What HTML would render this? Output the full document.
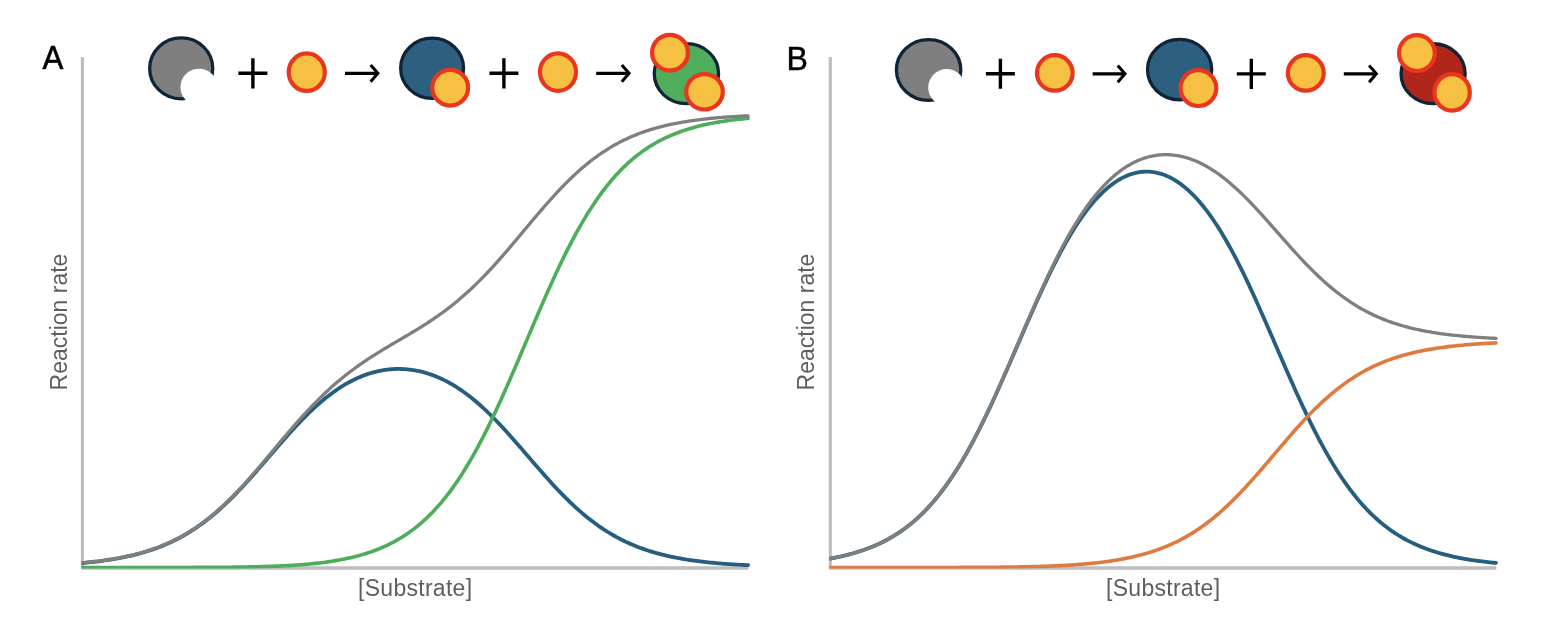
<!DOCTYPE html>
<html><head><meta charset="utf-8"><title>Reaction rate vs substrate</title>
<style>
html,body{margin:0;padding:0;background:#fff;}
body{width:1542px;height:642px;overflow:hidden;font-family:"Liberation Sans",sans-serif;}
svg{display:block;will-change:transform;}
text{font-family:"Liberation Sans",sans-serif;}
</style></head><body>
<svg width="1542" height="642" viewBox="0 0 1542 642">
<rect width="1542" height="642" fill="#fff"/>
<defs>
<clipPath id="cA"><rect x="81.5" y="100" width="700" height="468.4"/></clipPath>
<clipPath id="cB"><rect x="829.4" y="100" width="700" height="468.4"/></clipPath>
</defs>
<path d="M82.4,57.1 V568.95" fill="none" stroke="#bdbdbd" stroke-width="3.1"/><path d="M81.3,567.95 H748.4" fill="none" stroke="#bdbdbd" stroke-width="3.5"/>
<path d="M830.3,57.1 V568.95" fill="none" stroke="#bdbdbd" stroke-width="3.1"/><path d="M829.1999999999999,567.95 H1496.3" fill="none" stroke="#bdbdbd" stroke-width="3.5"/>
<path d="M82.50,563.00 L84.49,562.81 L86.49,562.62 L88.48,562.42 L90.47,562.21 L92.46,561.99 L94.46,561.76 L96.45,561.53 L98.44,561.29 L100.44,561.03 L102.43,560.77 L104.42,560.49 L106.41,560.21 L108.41,559.91 L110.40,559.60 L112.39,559.28 L114.39,558.95 L116.38,558.60 L118.37,558.25 L120.36,557.87 L122.36,557.49 L124.35,557.08 L126.34,556.67 L128.33,556.23 L130.33,555.78 L132.32,555.32 L134.31,554.83 L136.31,554.33 L138.30,553.81 L140.29,553.27 L142.28,552.71 L144.28,552.13 L146.27,551.53 L148.26,550.91 L150.26,550.26 L152.25,549.59 L154.24,548.90 L156.23,548.19 L158.23,547.45 L160.22,546.68 L162.21,545.89 L164.21,545.07 L166.20,544.22 L168.19,543.35 L170.18,542.44 L172.18,541.51 L174.17,540.55 L176.16,539.55 L178.16,538.53 L180.15,537.47 L182.14,536.38 L184.13,535.26 L186.13,534.10 L188.12,532.91 L190.11,531.68 L192.10,530.42 L194.10,529.13 L196.09,527.80 L198.08,526.43 L200.08,525.03 L202.07,523.59 L204.06,522.11 L206.05,520.59 L208.05,519.04 L210.04,517.46 L212.03,515.83 L214.03,514.17 L216.02,512.47 L218.01,510.74 L220.00,508.97 L222.00,507.16 L223.99,505.32 L225.98,503.45 L227.98,501.54 L229.97,499.60 L231.96,497.63 L233.95,495.62 L235.95,493.59 L237.94,491.52 L239.93,489.43 L241.93,487.32 L243.92,485.17 L245.91,483.01 L247.90,480.82 L249.90,478.61 L251.89,476.38 L253.88,474.14 L255.87,471.88 L257.87,469.60 L259.86,467.32 L261.85,465.02 L263.85,462.72 L265.84,460.41 L267.83,458.10 L269.82,455.78 L271.82,453.47 L273.81,451.16 L275.80,448.85 L277.80,446.55 L279.79,444.26 L281.78,441.98 L283.77,439.71 L285.77,437.45 L287.76,435.22 L289.75,433.00 L291.75,430.80 L293.74,428.63 L295.73,426.48 L297.72,424.35 L299.72,422.25 L301.71,420.18 L303.70,418.15 L305.70,416.14 L307.69,414.17 L309.68,412.23 L311.67,410.33 L313.67,408.46 L315.66,406.63 L317.65,404.84 L319.64,403.09 L321.64,401.38 L323.63,399.72 L325.62,398.09 L327.62,396.51 L329.61,394.97 L331.60,393.47 L333.59,392.02 L335.59,390.61 L337.58,389.24 L339.57,387.92 L341.57,386.65 L343.56,385.42 L345.55,384.23 L347.54,383.09 L349.54,382.00 L351.53,380.95 L353.52,379.95 L355.52,378.99 L357.51,378.07 L359.50,377.20 L361.49,376.38 L363.49,375.60 L365.48,374.86 L367.47,374.17 L369.47,373.52 L371.46,372.91 L373.45,372.35 L375.44,371.84 L377.44,371.36 L379.43,370.93 L381.42,370.54 L383.41,370.19 L385.41,369.89 L387.40,369.63 L389.39,369.41 L391.39,369.24 L393.38,369.10 L395.37,369.01 L397.36,368.96 L399.36,368.95 L401.35,368.99 L403.34,369.07 L405.34,369.19 L407.33,369.35 L409.32,369.55 L411.31,369.80 L413.31,370.09 L415.30,370.42 L417.29,370.79 L419.29,371.21 L421.28,371.67 L423.27,372.17 L425.26,372.72 L427.26,373.31 L429.25,373.94 L431.24,374.62 L433.24,375.34 L435.23,376.11 L437.22,376.92 L439.21,377.77 L441.21,378.67 L443.20,379.62 L445.19,380.60 L447.19,381.64 L449.18,382.72 L451.17,383.84 L453.16,385.01 L455.16,386.23 L457.15,387.49 L459.14,388.79 L461.13,390.14 L463.13,391.53 L465.12,392.97 L467.11,394.45 L469.11,395.98 L471.10,397.55 L473.09,399.16 L475.08,400.81 L477.08,402.51 L479.07,404.24 L481.06,406.02 L483.06,407.83 L485.05,409.69 L487.04,411.58 L489.03,413.50 L491.03,415.47 L493.02,417.46 L495.01,419.49 L497.01,421.55 L499.00,423.63 L500.99,425.75 L502.98,427.89 L504.98,430.06 L506.97,432.25 L508.96,434.46 L510.96,436.69 L512.95,438.94 L514.94,441.20 L516.93,443.48 L518.93,445.77 L520.92,448.06 L522.91,450.37 L524.90,452.68 L526.90,454.99 L528.89,457.31 L530.88,459.62 L532.88,461.93 L534.87,464.24 L536.86,466.54 L538.85,468.83 L540.85,471.10 L542.84,473.37 L544.83,475.62 L546.83,477.85 L548.82,480.07 L550.81,482.27 L552.80,484.44 L554.80,486.59 L556.79,488.72 L558.78,490.82 L560.78,492.89 L562.77,494.93 L564.76,496.95 L566.75,498.93 L568.75,500.88 L570.74,502.80 L572.73,504.69 L574.73,506.54 L576.72,508.36 L578.71,510.14 L580.70,511.89 L582.70,513.60 L584.69,515.27 L586.68,516.91 L588.67,518.51 L590.67,520.07 L592.66,521.60 L594.65,523.09 L596.65,524.54 L598.64,525.96 L600.63,527.34 L602.62,528.68 L604.62,529.99 L606.61,531.26 L608.60,532.50 L610.60,533.70 L612.59,534.87 L614.58,536.00 L616.57,537.10 L618.57,538.17 L620.56,539.21 L622.55,540.21 L624.55,541.19 L626.54,542.13 L628.53,543.04 L630.52,543.93 L632.52,544.78 L634.51,545.61 L636.50,546.41 L638.50,547.19 L640.49,547.94 L642.48,548.66 L644.47,549.36 L646.47,550.04 L648.46,550.69 L650.45,551.32 L652.44,551.93 L654.44,552.52 L656.43,553.08 L658.42,553.63 L660.42,554.16 L662.41,554.66 L664.40,555.15 L666.39,555.63 L668.39,556.08 L670.38,556.52 L672.37,556.94 L674.37,557.35 L676.36,557.74 L678.35,558.12 L680.34,558.48 L682.34,558.83 L684.33,559.17 L686.32,559.50 L688.32,559.81 L690.31,560.11 L692.30,560.40 L694.29,560.68 L696.29,560.94 L698.28,561.20 L700.27,561.45 L702.27,561.69 L704.26,561.91 L706.25,562.14 L708.24,562.35 L710.24,562.55 L712.23,562.75 L714.22,562.93 L716.21,563.11 L718.21,563.29 L720.20,563.46 L722.19,563.62 L724.19,563.77 L726.18,563.92 L728.17,564.06 L730.16,564.20 L732.16,564.33 L734.15,564.46 L736.14,564.58 L738.14,564.69 L740.13,564.81 L742.12,564.91 L744.11,565.02 L746.11,565.12 L748.10,565.21" fill="none" stroke="#255e7e" stroke-width="3.8" stroke-linecap="round" stroke-linejoin="round" clip-path="url(#cA)"/>
<path d="M82.50,567.50 L84.49,567.50 L86.49,567.50 L88.48,567.50 L90.47,567.50 L92.46,567.50 L94.46,567.50 L96.45,567.50 L98.44,567.50 L100.44,567.50 L102.43,567.50 L104.42,567.50 L106.41,567.50 L108.41,567.50 L110.40,567.50 L112.39,567.50 L114.39,567.50 L116.38,567.50 L118.37,567.50 L120.36,567.50 L122.36,567.50 L124.35,567.49 L126.34,567.49 L128.33,567.49 L130.33,567.49 L132.32,567.49 L134.31,567.49 L136.31,567.49 L138.30,567.49 L140.29,567.49 L142.28,567.49 L144.28,567.49 L146.27,567.49 L148.26,567.49 L150.26,567.49 L152.25,567.48 L154.24,567.48 L156.23,567.48 L158.23,567.48 L160.22,567.48 L162.21,567.48 L164.21,567.47 L166.20,567.47 L168.19,567.47 L170.18,567.47 L172.18,567.47 L174.17,567.46 L176.16,567.46 L178.16,567.46 L180.15,567.45 L182.14,567.45 L184.13,567.45 L186.13,567.44 L188.12,567.44 L190.11,567.43 L192.10,567.43 L194.10,567.42 L196.09,567.41 L198.08,567.41 L200.08,567.40 L202.07,567.39 L204.06,567.38 L206.05,567.38 L208.05,567.37 L210.04,567.36 L212.03,567.34 L214.03,567.33 L216.02,567.32 L218.01,567.31 L220.00,567.29 L222.00,567.28 L223.99,567.26 L225.98,567.24 L227.98,567.22 L229.97,567.20 L231.96,567.18 L233.95,567.16 L235.95,567.14 L237.94,567.11 L239.93,567.08 L241.93,567.05 L243.92,567.02 L245.91,566.99 L247.90,566.95 L249.90,566.92 L251.89,566.88 L253.88,566.83 L255.87,566.79 L257.87,566.74 L259.86,566.69 L261.85,566.64 L263.85,566.58 L265.84,566.52 L267.83,566.46 L269.82,566.39 L271.82,566.32 L273.81,566.24 L275.80,566.17 L277.80,566.08 L279.79,566.00 L281.78,565.90 L283.77,565.81 L285.77,565.70 L287.76,565.60 L289.75,565.48 L291.75,565.36 L293.74,565.24 L295.73,565.11 L297.72,564.97 L299.72,564.82 L301.71,564.67 L303.70,564.51 L305.70,564.34 L307.69,564.17 L309.68,563.98 L311.67,563.79 L313.67,563.59 L315.66,563.38 L317.65,563.15 L319.64,562.92 L321.64,562.68 L323.63,562.43 L325.62,562.16 L327.62,561.89 L329.61,561.60 L331.60,561.30 L333.59,560.98 L335.59,560.65 L337.58,560.31 L339.57,559.95 L341.57,559.58 L343.56,559.19 L345.55,558.78 L347.54,558.36 L349.54,557.92 L351.53,557.46 L353.52,556.98 L355.52,556.48 L357.51,555.96 L359.50,555.42 L361.49,554.86 L363.49,554.27 L365.48,553.66 L367.47,553.03 L369.47,552.37 L371.46,551.68 L373.45,550.97 L375.44,550.23 L377.44,549.46 L379.43,548.66 L381.42,547.82 L383.41,546.96 L385.41,546.06 L387.40,545.13 L389.39,544.17 L391.39,543.16 L393.38,542.12 L395.37,541.04 L397.36,539.92 L399.36,538.76 L401.35,537.56 L403.34,536.31 L405.34,535.02 L407.33,533.68 L409.32,532.29 L411.31,530.85 L413.31,529.37 L415.30,527.83 L417.29,526.24 L419.29,524.59 L421.28,522.89 L423.27,521.14 L425.26,519.32 L427.26,517.45 L429.25,515.51 L431.24,513.51 L433.24,511.45 L435.23,509.33 L437.22,507.14 L439.21,504.88 L441.21,502.55 L443.20,500.16 L445.19,497.70 L447.19,495.16 L449.18,492.56 L451.17,489.88 L453.16,487.13 L455.16,484.30 L457.15,481.40 L459.14,478.43 L461.13,475.39 L463.13,472.26 L465.12,469.07 L467.11,465.80 L469.11,462.45 L471.10,459.04 L473.09,455.54 L475.08,451.98 L477.08,448.34 L479.07,444.64 L481.06,440.86 L483.06,437.02 L485.05,433.10 L487.04,429.13 L489.03,425.09 L491.03,420.99 L493.02,416.83 L495.01,412.61 L497.01,408.34 L499.00,404.01 L500.99,399.64 L502.98,395.22 L504.98,390.76 L506.97,386.26 L508.96,381.72 L510.96,377.15 L512.95,372.55 L514.94,367.93 L516.93,363.28 L518.93,358.61 L520.92,353.93 L522.91,349.24 L524.90,344.55 L526.90,339.85 L528.89,335.15 L530.88,330.46 L532.88,325.78 L534.87,321.11 L536.86,316.45 L538.85,311.82 L540.85,307.22 L542.84,302.64 L544.83,298.10 L546.83,293.59 L548.82,289.12 L550.81,284.69 L552.80,280.31 L554.80,275.98 L556.79,271.70 L558.78,267.47 L560.78,263.30 L562.77,259.18 L564.76,255.13 L566.75,251.14 L568.75,247.22 L570.74,243.36 L572.73,239.57 L574.73,235.85 L576.72,232.20 L578.71,228.62 L580.70,225.11 L582.70,221.68 L584.69,218.32 L586.68,215.03 L588.67,211.82 L590.67,208.69 L592.66,205.62 L594.65,202.64 L596.65,199.72 L598.64,196.88 L600.63,194.12 L602.62,191.42 L604.62,188.80 L606.61,186.25 L608.60,183.77 L610.60,181.36 L612.59,179.02 L614.58,176.75 L616.57,174.54 L618.57,172.40 L620.56,170.33 L622.55,168.31 L624.55,166.36 L626.54,164.47 L628.53,162.64 L630.52,160.87 L632.52,159.16 L634.51,157.50 L636.50,155.89 L638.50,154.34 L640.49,152.84 L642.48,151.39 L644.47,149.99 L646.47,148.64 L648.46,147.33 L650.45,146.07 L652.44,144.85 L654.44,143.68 L656.43,142.54 L658.42,141.45 L660.42,140.40 L662.41,139.38 L664.40,138.40 L666.39,137.45 L668.39,136.54 L670.38,135.66 L672.37,134.82 L674.37,134.00 L676.36,133.22 L678.35,132.46 L680.34,131.74 L682.34,131.04 L684.33,130.36 L686.32,129.71 L688.32,129.09 L690.31,128.49 L692.30,127.91 L694.29,127.35 L696.29,126.82 L698.28,126.30 L700.27,125.81 L702.27,125.33 L704.26,124.87 L706.25,124.43 L708.24,124.01 L710.24,123.60 L712.23,123.21 L714.22,122.83 L716.21,122.47 L718.21,122.12 L720.20,121.79 L722.19,121.47 L724.19,121.16 L726.18,120.86 L728.17,120.58 L730.16,120.31 L732.16,120.04 L734.15,119.79 L736.14,119.55 L738.14,119.31 L740.13,119.09 L742.12,118.87 L744.11,118.67 L746.11,118.47 L748.10,118.28" fill="none" stroke="#4cad5a" stroke-width="3.6" stroke-linecap="round" stroke-linejoin="round" clip-path="url(#cA)"/>
<path d="M82.50,562.80 L84.49,562.61 L86.49,562.42 L88.48,562.22 L90.47,562.01 L92.46,561.79 L94.46,561.56 L96.45,561.33 L98.44,561.08 L100.44,560.83 L102.43,560.57 L104.42,560.29 L106.41,560.01 L108.41,559.71 L110.40,559.40 L112.39,559.08 L114.39,558.75 L116.38,558.40 L118.37,558.04 L120.36,557.67 L122.36,557.28 L124.35,556.88 L126.34,556.46 L128.33,556.03 L130.33,555.58 L132.32,555.11 L134.31,554.63 L136.31,554.12 L138.30,553.60 L140.29,553.06 L142.28,552.50 L144.28,551.92 L146.27,551.32 L148.26,550.69 L150.26,550.05 L152.25,549.38 L154.24,548.69 L156.23,547.97 L158.23,547.23 L160.22,546.46 L162.21,545.66 L164.21,544.84 L166.20,543.99 L168.19,543.12 L170.18,542.21 L172.18,541.28 L174.17,540.31 L176.16,539.31 L178.16,538.28 L180.15,537.22 L182.14,536.13 L184.13,535.00 L186.13,533.84 L188.12,532.65 L190.11,531.42 L192.10,530.15 L194.10,528.85 L196.09,527.51 L198.08,526.14 L200.08,524.73 L202.07,523.28 L204.06,521.79 L206.05,520.27 L208.05,518.71 L210.04,517.11 L212.03,515.48 L214.03,513.80 L216.02,512.09 L218.01,510.35 L220.00,508.56 L222.00,506.74 L223.99,504.88 L225.98,502.99 L227.98,501.06 L229.97,499.10 L231.96,497.11 L233.95,495.08 L235.95,493.02 L237.94,490.93 L239.93,488.82 L241.93,486.67 L243.92,484.49 L245.91,482.30 L247.90,480.07 L249.90,477.82 L251.89,475.56 L253.88,473.27 L255.87,470.96 L257.87,468.64 L259.86,466.31 L261.85,463.96 L263.85,461.60 L265.84,459.23 L267.83,456.85 L269.82,454.47 L271.82,452.09 L273.81,449.70 L275.80,447.31 L277.80,444.93 L279.79,442.55 L281.78,440.18 L283.77,437.81 L285.77,435.46 L287.76,433.11 L289.75,430.78 L291.75,428.46 L293.74,426.16 L295.73,423.88 L297.72,421.62 L299.72,419.38 L301.71,417.15 L303.70,414.96 L305.70,412.78 L307.69,410.63 L309.68,408.51 L311.67,406.41 L313.67,404.35 L315.66,402.31 L317.65,400.30 L319.64,398.32 L321.64,396.36 L323.63,394.44 L325.62,392.55 L327.62,390.69 L329.61,388.86 L331.60,387.07 L333.59,385.30 L335.59,383.56 L337.58,381.85 L339.57,380.17 L341.57,378.53 L343.56,376.91 L345.55,375.32 L347.54,373.75 L349.54,372.22 L351.53,370.71 L353.52,369.22 L355.52,367.77 L357.51,366.33 L359.50,364.92 L361.49,363.53 L363.49,362.17 L365.48,360.82 L367.47,359.49 L369.47,358.19 L371.46,356.90 L373.45,355.62 L375.44,354.36 L377.44,353.12 L379.43,351.88 L381.42,350.66 L383.41,349.46 L385.41,348.25 L387.40,347.06 L389.39,345.88 L391.39,344.70 L393.38,343.52 L395.37,342.35 L397.36,341.18 L399.36,340.01 L401.35,338.85 L403.34,337.67 L405.34,336.50 L407.33,335.32 L409.32,334.14 L411.31,332.95 L413.31,331.75 L415.30,330.55 L417.29,329.33 L419.29,328.10 L421.28,326.86 L423.27,325.61 L425.26,324.34 L427.26,323.05 L429.25,321.75 L431.24,320.43 L433.24,319.09 L435.23,317.73 L437.22,316.35 L439.21,314.95 L441.21,313.52 L443.20,312.07 L445.19,310.60 L447.19,309.10 L449.18,307.57 L451.17,306.02 L453.16,304.44 L455.16,302.83 L457.15,301.19 L459.14,299.52 L461.13,297.82 L463.13,296.10 L465.12,294.34 L467.11,292.55 L469.11,290.73 L471.10,288.88 L473.09,287.00 L475.08,285.09 L477.08,283.15 L479.07,281.18 L481.06,279.18 L483.06,277.15 L485.05,275.09 L487.04,273.01 L489.03,270.89 L491.03,268.75 L493.02,266.59 L495.01,264.40 L497.01,262.18 L499.00,259.95 L500.99,257.69 L502.98,255.41 L504.98,253.12 L506.97,250.81 L508.96,248.48 L510.96,246.14 L512.95,243.79 L514.94,241.43 L516.93,239.06 L518.93,236.68 L520.92,234.30 L522.91,231.91 L524.90,229.53 L526.90,227.14 L528.89,224.76 L530.88,222.38 L532.88,220.01 L534.87,217.64 L536.86,215.29 L538.85,212.95 L540.85,210.62 L542.84,208.31 L544.83,206.02 L546.83,203.74 L548.82,201.49 L550.81,199.26 L552.80,197.05 L554.80,194.87 L556.79,192.71 L558.78,190.58 L560.78,188.48 L562.77,186.42 L564.76,184.38 L566.75,182.37 L568.75,180.40 L570.74,178.46 L572.73,176.56 L574.73,174.69 L576.72,172.85 L578.71,171.06 L580.70,169.30 L582.70,167.57 L584.69,165.89 L586.68,164.24 L588.67,162.63 L590.67,161.06 L592.66,159.52 L594.65,158.02 L596.65,156.56 L598.64,155.14 L600.63,153.75 L602.62,152.40 L604.62,151.09 L606.61,149.81 L608.60,148.57 L610.60,147.36 L612.59,146.19 L614.58,145.05 L616.57,143.95 L618.57,142.87 L620.56,141.83 L622.55,140.83 L624.55,139.85 L626.54,138.90 L628.53,137.99 L630.52,137.10 L632.52,136.24 L634.51,135.41 L636.50,134.61 L638.50,133.83 L640.49,133.08 L642.48,132.36 L644.47,131.65 L646.47,130.98 L648.46,130.32 L650.45,129.69 L652.44,129.08 L654.44,128.49 L656.43,127.93 L658.42,127.38 L660.42,126.85 L662.41,126.34 L664.40,125.85 L666.39,125.38 L668.39,124.92 L670.38,124.48 L672.37,124.06 L674.37,123.65 L676.36,123.26 L678.35,122.88 L680.34,122.52 L682.34,122.17 L684.33,121.83 L686.32,121.51 L688.32,121.20 L690.31,120.89 L692.30,120.61 L694.29,120.33 L696.29,120.06 L698.28,119.80 L700.27,119.55 L702.27,119.32 L704.26,119.09 L706.25,118.87 L708.24,118.65 L710.24,118.45 L712.23,118.26 L714.22,118.07 L716.21,117.89 L718.21,117.71 L720.20,117.55 L722.19,117.38 L724.19,117.23 L726.18,117.08 L728.17,116.94 L730.16,116.80 L732.16,116.67 L734.15,116.54 L736.14,116.42 L738.14,116.31 L740.13,116.19 L742.12,116.09 L744.11,115.98 L746.11,115.88 L748.10,115.79" fill="none" stroke="#7f7f7f" stroke-width="3.3" stroke-linecap="round" stroke-linejoin="round" clip-path="url(#cA)"/>
<path d="M830.40,558.52 L832.39,558.15 L834.39,557.77 L836.38,557.37 L838.37,556.95 L840.36,556.52 L842.36,556.07 L844.35,555.60 L846.34,555.11 L848.34,554.60 L850.33,554.08 L852.32,553.53 L854.31,552.96 L856.31,552.37 L858.30,551.75 L860.29,551.12 L862.29,550.45 L864.28,549.76 L866.27,549.05 L868.26,548.30 L870.26,547.53 L872.25,546.73 L874.24,545.90 L876.23,545.04 L878.23,544.14 L880.22,543.21 L882.21,542.24 L884.21,541.24 L886.20,540.21 L888.19,539.13 L890.18,538.01 L892.18,536.86 L894.17,535.66 L896.16,534.42 L898.16,533.13 L900.15,531.80 L902.14,530.42 L904.13,528.99 L906.13,527.52 L908.12,525.99 L910.11,524.41 L912.11,522.78 L914.10,521.09 L916.09,519.34 L918.08,517.54 L920.08,515.68 L922.07,513.76 L924.06,511.78 L926.06,509.73 L928.05,507.62 L930.04,505.45 L932.03,503.21 L934.03,500.91 L936.02,498.53 L938.01,496.09 L940.00,493.58 L942.00,490.99 L943.99,488.34 L945.98,485.61 L947.98,482.81 L949.97,479.94 L951.96,477.00 L953.95,473.98 L955.95,470.89 L957.94,467.72 L959.93,464.48 L961.93,461.17 L963.92,457.78 L965.91,454.33 L967.90,450.80 L969.90,447.20 L971.89,443.53 L973.88,439.79 L975.88,435.99 L977.87,432.12 L979.86,428.18 L981.85,424.19 L983.85,420.13 L985.84,416.02 L987.83,411.85 L989.83,407.63 L991.82,403.35 L993.81,399.04 L995.80,394.67 L997.80,390.27 L999.79,385.83 L1001.78,381.35 L1003.77,376.84 L1005.77,372.31 L1007.76,367.75 L1009.75,363.17 L1011.75,358.58 L1013.74,353.98 L1015.73,349.37 L1017.72,344.75 L1019.72,340.14 L1021.71,335.53 L1023.70,330.93 L1025.70,326.34 L1027.69,321.77 L1029.68,317.23 L1031.67,312.70 L1033.67,308.21 L1035.66,303.75 L1037.65,299.33 L1039.65,294.95 L1041.64,290.61 L1043.63,286.32 L1045.62,282.09 L1047.62,277.90 L1049.61,273.78 L1051.60,269.71 L1053.60,265.71 L1055.59,261.78 L1057.58,257.92 L1059.57,254.12 L1061.57,250.40 L1063.56,246.76 L1065.55,243.19 L1067.54,239.70 L1069.54,236.29 L1071.53,232.97 L1073.52,229.73 L1075.52,226.57 L1077.51,223.50 L1079.50,220.51 L1081.49,217.62 L1083.49,214.81 L1085.48,212.09 L1087.47,209.46 L1089.47,206.91 L1091.46,204.46 L1093.45,202.10 L1095.44,199.83 L1097.44,197.65 L1099.43,195.55 L1101.42,193.55 L1103.42,191.64 L1105.41,189.81 L1107.40,188.08 L1109.39,186.43 L1111.39,184.88 L1113.38,183.41 L1115.37,182.03 L1117.37,180.73 L1119.36,179.53 L1121.35,178.41 L1123.34,177.38 L1125.34,176.43 L1127.33,175.57 L1129.32,174.80 L1131.31,174.11 L1133.31,173.50 L1135.30,172.98 L1137.29,172.55 L1139.29,172.20 L1141.28,171.93 L1143.27,171.75 L1145.26,171.65 L1147.26,171.63 L1149.25,171.70 L1151.24,171.86 L1153.24,172.10 L1155.23,172.42 L1157.22,172.82 L1159.21,173.32 L1161.21,173.89 L1163.20,174.55 L1165.19,175.30 L1167.19,176.13 L1169.18,177.05 L1171.17,178.05 L1173.16,179.14 L1175.16,180.31 L1177.15,181.58 L1179.14,182.93 L1181.14,184.37 L1183.13,185.89 L1185.12,187.51 L1187.11,189.21 L1189.11,191.01 L1191.10,192.89 L1193.09,194.86 L1195.09,196.92 L1197.08,199.08 L1199.07,201.32 L1201.06,203.65 L1203.06,206.07 L1205.05,208.58 L1207.04,211.18 L1209.03,213.87 L1211.03,216.65 L1213.02,219.52 L1215.01,222.47 L1217.01,225.52 L1219.00,228.64 L1220.99,231.86 L1222.98,235.15 L1224.98,238.53 L1226.97,241.99 L1228.96,245.53 L1230.96,249.15 L1232.95,252.85 L1234.94,256.62 L1236.93,260.46 L1238.93,264.37 L1240.92,268.35 L1242.91,272.39 L1244.91,276.49 L1246.90,280.66 L1248.89,284.88 L1250.88,289.15 L1252.88,293.47 L1254.87,297.83 L1256.86,302.24 L1258.86,306.69 L1260.85,311.17 L1262.84,315.68 L1264.83,320.22 L1266.83,324.79 L1268.82,329.37 L1270.81,333.96 L1272.80,338.57 L1274.80,343.18 L1276.79,347.80 L1278.78,352.41 L1280.78,357.02 L1282.77,361.61 L1284.76,366.20 L1286.75,370.76 L1288.75,375.30 L1290.74,379.82 L1292.73,384.31 L1294.73,388.76 L1296.72,393.18 L1298.71,397.56 L1300.70,401.89 L1302.70,406.18 L1304.69,410.42 L1306.68,414.61 L1308.68,418.74 L1310.67,422.81 L1312.66,426.83 L1314.65,430.79 L1316.65,434.68 L1318.64,438.51 L1320.63,442.27 L1322.63,445.96 L1324.62,449.58 L1326.61,453.13 L1328.60,456.62 L1330.60,460.03 L1332.59,463.36 L1334.58,466.63 L1336.57,469.82 L1338.57,472.94 L1340.56,475.98 L1342.55,478.95 L1344.55,481.85 L1346.54,484.67 L1348.53,487.42 L1350.52,490.10 L1352.52,492.71 L1354.51,495.24 L1356.50,497.71 L1358.50,500.11 L1360.49,502.44 L1362.48,504.70 L1364.47,506.89 L1366.47,509.02 L1368.46,511.09 L1370.45,513.09 L1372.45,515.03 L1374.44,516.91 L1376.43,518.74 L1378.42,520.50 L1380.42,522.21 L1382.41,523.86 L1384.40,525.46 L1386.40,527.00 L1388.39,528.50 L1390.38,529.94 L1392.37,531.34 L1394.37,532.68 L1396.36,533.98 L1398.35,535.24 L1400.34,536.45 L1402.34,537.62 L1404.33,538.75 L1406.32,539.84 L1408.32,540.89 L1410.31,541.91 L1412.30,542.89 L1414.29,543.83 L1416.29,544.73 L1418.28,545.61 L1420.27,546.45 L1422.27,547.26 L1424.26,548.05 L1426.25,548.80 L1428.24,549.52 L1430.24,550.22 L1432.23,550.89 L1434.22,551.54 L1436.22,552.16 L1438.21,552.76 L1440.20,553.34 L1442.19,553.89 L1444.19,554.43 L1446.18,554.94 L1448.17,555.43 L1450.17,555.91 L1452.16,556.36 L1454.15,556.80 L1456.14,557.23 L1458.14,557.63 L1460.13,558.02 L1462.12,558.40 L1464.11,558.76 L1466.11,559.10 L1468.10,559.44 L1470.09,559.76 L1472.09,560.06 L1474.08,560.36 L1476.07,560.64 L1478.06,560.92 L1480.06,561.18 L1482.05,561.43 L1484.04,561.67 L1486.04,561.90 L1488.03,562.13 L1490.02,562.34 L1492.01,562.55 L1494.01,562.75 L1496.00,562.94" fill="none" stroke="#255e7e" stroke-width="3.8" stroke-linecap="round" stroke-linejoin="round" clip-path="url(#cB)"/>
<path d="M830.40,567.50 L832.39,567.50 L834.39,567.50 L836.38,567.50 L838.37,567.50 L840.36,567.50 L842.36,567.50 L844.35,567.50 L846.34,567.50 L848.34,567.50 L850.33,567.50 L852.32,567.50 L854.31,567.50 L856.31,567.50 L858.30,567.50 L860.29,567.50 L862.29,567.50 L864.28,567.50 L866.27,567.50 L868.26,567.50 L870.26,567.50 L872.25,567.50 L874.24,567.50 L876.23,567.50 L878.23,567.50 L880.22,567.50 L882.21,567.50 L884.21,567.50 L886.20,567.50 L888.19,567.50 L890.18,567.49 L892.18,567.49 L894.17,567.49 L896.16,567.49 L898.16,567.49 L900.15,567.49 L902.14,567.49 L904.13,567.49 L906.13,567.49 L908.12,567.49 L910.11,567.49 L912.11,567.49 L914.10,567.49 L916.09,567.49 L918.08,567.48 L920.08,567.48 L922.07,567.48 L924.06,567.48 L926.06,567.48 L928.05,567.48 L930.04,567.47 L932.03,567.47 L934.03,567.47 L936.02,567.47 L938.01,567.47 L940.00,567.46 L942.00,567.46 L943.99,567.46 L945.98,567.45 L947.98,567.45 L949.97,567.45 L951.96,567.44 L953.95,567.44 L955.95,567.43 L957.94,567.43 L959.93,567.42 L961.93,567.42 L963.92,567.41 L965.91,567.40 L967.90,567.40 L969.90,567.39 L971.89,567.38 L973.88,567.37 L975.88,567.36 L977.87,567.35 L979.86,567.34 L981.85,567.33 L983.85,567.32 L985.84,567.30 L987.83,567.29 L989.83,567.28 L991.82,567.26 L993.81,567.24 L995.80,567.23 L997.80,567.21 L999.79,567.19 L1001.78,567.17 L1003.77,567.14 L1005.77,567.12 L1007.76,567.09 L1009.75,567.07 L1011.75,567.04 L1013.74,567.01 L1015.73,566.98 L1017.72,566.94 L1019.72,566.91 L1021.71,566.87 L1023.70,566.83 L1025.70,566.79 L1027.69,566.75 L1029.68,566.70 L1031.67,566.65 L1033.67,566.60 L1035.66,566.55 L1037.65,566.49 L1039.65,566.43 L1041.64,566.37 L1043.63,566.30 L1045.62,566.23 L1047.62,566.16 L1049.61,566.08 L1051.60,566.00 L1053.60,565.92 L1055.59,565.83 L1057.58,565.74 L1059.57,565.64 L1061.57,565.54 L1063.56,565.44 L1065.55,565.33 L1067.54,565.21 L1069.54,565.09 L1071.53,564.96 L1073.52,564.83 L1075.52,564.69 L1077.51,564.55 L1079.50,564.40 L1081.49,564.24 L1083.49,564.08 L1085.48,563.90 L1087.47,563.73 L1089.47,563.54 L1091.46,563.34 L1093.45,563.14 L1095.44,562.93 L1097.44,562.71 L1099.43,562.48 L1101.42,562.24 L1103.42,561.99 L1105.41,561.73 L1107.40,561.46 L1109.39,561.18 L1111.39,560.89 L1113.38,560.58 L1115.37,560.26 L1117.37,559.93 L1119.36,559.59 L1121.35,559.23 L1123.34,558.86 L1125.34,558.48 L1127.33,558.08 L1129.32,557.66 L1131.31,557.23 L1133.31,556.78 L1135.30,556.32 L1137.29,555.83 L1139.29,555.33 L1141.28,554.81 L1143.27,554.27 L1145.26,553.71 L1147.26,553.13 L1149.25,552.53 L1151.24,551.90 L1153.24,551.26 L1155.23,550.59 L1157.22,549.89 L1159.21,549.18 L1161.21,548.43 L1163.20,547.66 L1165.19,546.87 L1167.19,546.05 L1169.18,545.20 L1171.17,544.32 L1173.16,543.41 L1175.16,542.47 L1177.15,541.51 L1179.14,540.51 L1181.14,539.48 L1183.13,538.41 L1185.12,537.32 L1187.11,536.19 L1189.11,535.03 L1191.10,533.83 L1193.09,532.60 L1195.09,531.33 L1197.08,530.03 L1199.07,528.69 L1201.06,527.31 L1203.06,525.90 L1205.05,524.45 L1207.04,522.97 L1209.03,521.44 L1211.03,519.88 L1213.02,518.28 L1215.01,516.65 L1217.01,514.98 L1219.00,513.27 L1220.99,511.52 L1222.98,509.74 L1224.98,507.92 L1226.97,506.07 L1228.96,504.18 L1230.96,502.26 L1232.95,500.30 L1234.94,498.31 L1236.93,496.29 L1238.93,494.24 L1240.92,492.16 L1242.91,490.05 L1244.91,487.92 L1246.90,485.76 L1248.89,483.57 L1250.88,481.36 L1252.88,479.13 L1254.87,476.88 L1256.86,474.61 L1258.86,472.33 L1260.85,470.03 L1262.84,467.71 L1264.83,465.39 L1266.83,463.06 L1268.82,460.72 L1270.81,458.37 L1272.80,456.02 L1274.80,453.67 L1276.79,451.32 L1278.78,448.98 L1280.78,446.64 L1282.77,444.30 L1284.76,441.98 L1286.75,439.66 L1288.75,437.36 L1290.74,435.07 L1292.73,432.80 L1294.73,430.55 L1296.72,428.31 L1298.71,426.10 L1300.70,423.91 L1302.70,421.74 L1304.69,419.60 L1306.68,417.48 L1308.68,415.40 L1310.67,413.34 L1312.66,411.31 L1314.65,409.32 L1316.65,407.36 L1318.64,405.43 L1320.63,403.53 L1322.63,401.67 L1324.62,399.85 L1326.61,398.06 L1328.60,396.31 L1330.60,394.59 L1332.59,392.91 L1334.58,391.27 L1336.57,389.66 L1338.57,388.09 L1340.56,386.56 L1342.55,385.07 L1344.55,383.61 L1346.54,382.19 L1348.53,380.81 L1350.52,379.46 L1352.52,378.15 L1354.51,376.88 L1356.50,375.64 L1358.50,374.43 L1360.49,373.26 L1362.48,372.12 L1364.47,371.02 L1366.47,369.95 L1368.46,368.91 L1370.45,367.91 L1372.45,366.93 L1374.44,365.99 L1376.43,365.07 L1378.42,364.19 L1380.42,363.33 L1382.41,362.50 L1384.40,361.70 L1386.40,360.92 L1388.39,360.17 L1390.38,359.45 L1392.37,358.75 L1394.37,358.07 L1396.36,357.42 L1398.35,356.79 L1400.34,356.18 L1402.34,355.59 L1404.33,355.02 L1406.32,354.48 L1408.32,353.95 L1410.31,353.44 L1412.30,352.95 L1414.29,352.48 L1416.29,352.02 L1418.28,351.58 L1420.27,351.16 L1422.27,350.75 L1424.26,350.36 L1426.25,349.98 L1428.24,349.62 L1430.24,349.27 L1432.23,348.93 L1434.22,348.61 L1436.22,348.29 L1438.21,347.99 L1440.20,347.70 L1442.19,347.43 L1444.19,347.16 L1446.18,346.90 L1448.17,346.65 L1450.17,346.41 L1452.16,346.19 L1454.15,345.97 L1456.14,345.75 L1458.14,345.55 L1460.13,345.35 L1462.12,345.17 L1464.11,344.99 L1466.11,344.81 L1468.10,344.64 L1470.09,344.48 L1472.09,344.33 L1474.08,344.18 L1476.07,344.04 L1478.06,343.90 L1480.06,343.77 L1482.05,343.64 L1484.04,343.52 L1486.04,343.41 L1488.03,343.29 L1490.02,343.19 L1492.01,343.08 L1494.01,342.98 L1496.00,342.89" fill="none" stroke="#e07b3f" stroke-width="3.6" stroke-linecap="round" stroke-linejoin="round" clip-path="url(#cB)"/>
<path d="M830.40,558.52 L832.39,558.15 L834.39,557.76 L836.38,557.36 L838.37,556.95 L840.36,556.51 L842.36,556.06 L844.35,555.60 L846.34,555.11 L848.34,554.60 L850.33,554.08 L852.32,553.53 L854.31,552.96 L856.31,552.37 L858.30,551.75 L860.29,551.11 L862.29,550.45 L864.28,549.76 L866.27,549.05 L868.26,548.30 L870.26,547.53 L872.25,546.73 L874.24,545.90 L876.23,545.03 L878.23,544.14 L880.22,543.21 L882.21,542.24 L884.21,541.24 L886.20,540.20 L888.19,539.12 L890.18,538.01 L892.18,536.85 L894.17,535.65 L896.16,534.41 L898.16,533.12 L900.15,531.79 L902.14,530.41 L904.13,528.98 L906.13,527.51 L908.12,525.98 L910.11,524.40 L912.11,522.76 L914.10,521.07 L916.09,519.33 L918.08,517.52 L920.08,515.66 L922.07,513.74 L924.06,511.76 L926.06,509.71 L928.05,507.60 L930.04,505.43 L932.03,503.18 L934.03,500.88 L936.02,498.50 L938.01,496.05 L940.00,493.54 L942.00,490.95 L943.99,488.30 L945.98,485.57 L947.98,482.76 L949.97,479.89 L951.96,476.94 L953.95,473.92 L955.95,470.82 L957.94,467.65 L959.93,464.40 L961.93,461.09 L963.92,457.69 L965.91,454.23 L967.90,450.69 L969.90,447.09 L971.89,443.41 L973.88,439.66 L975.88,435.85 L977.87,431.97 L979.86,428.02 L981.85,424.02 L983.85,419.95 L985.84,415.82 L987.83,411.64 L989.83,407.40 L991.82,403.12 L993.81,398.78 L995.80,394.40 L997.80,389.98 L999.79,385.51 L1001.78,381.02 L1003.77,376.49 L1005.77,371.93 L1007.76,367.35 L1009.75,362.74 L1011.75,358.12 L1013.74,353.49 L1015.73,348.84 L1017.72,344.20 L1019.72,339.55 L1021.71,334.90 L1023.70,330.26 L1025.70,325.63 L1027.69,321.02 L1029.68,316.43 L1031.67,311.86 L1033.67,307.31 L1035.66,302.80 L1037.65,298.32 L1039.65,293.88 L1041.64,289.48 L1043.63,285.13 L1045.62,280.82 L1047.62,276.56 L1049.61,272.36 L1051.60,268.22 L1053.60,264.14 L1055.59,260.11 L1057.58,256.16 L1059.57,252.27 L1061.57,248.44 L1063.56,244.69 L1065.55,241.02 L1067.54,237.41 L1069.54,233.88 L1071.53,230.43 L1073.52,227.06 L1075.52,223.76 L1077.51,220.55 L1079.50,217.41 L1081.49,214.36 L1083.49,211.38 L1085.48,208.49 L1087.47,205.68 L1089.47,202.95 L1091.46,200.31 L1093.45,197.74 L1095.44,195.26 L1097.44,192.85 L1099.43,190.53 L1101.42,188.29 L1103.42,186.13 L1105.41,184.04 L1107.40,182.04 L1109.39,180.11 L1111.39,178.26 L1113.38,176.49 L1115.37,174.79 L1117.37,173.17 L1119.36,171.62 L1121.35,170.14 L1123.34,168.74 L1125.34,167.41 L1127.33,166.15 L1129.32,164.96 L1131.31,163.84 L1133.31,162.78 L1135.30,161.80 L1137.29,160.88 L1139.29,160.03 L1141.28,159.24 L1143.27,158.52 L1145.26,157.86 L1147.26,157.26 L1149.25,156.73 L1151.24,156.26 L1153.24,155.85 L1155.23,155.51 L1157.22,155.22 L1159.21,154.99 L1161.21,154.83 L1163.20,154.72 L1165.19,154.67 L1167.19,154.68 L1169.18,154.74 L1171.17,154.87 L1173.16,155.05 L1175.16,155.29 L1177.15,155.58 L1179.14,155.94 L1181.14,156.34 L1183.13,156.81 L1185.12,157.33 L1187.11,157.90 L1189.11,158.53 L1191.10,159.22 L1193.09,159.96 L1195.09,160.75 L1197.08,161.60 L1199.07,162.51 L1201.06,163.46 L1203.06,164.47 L1205.05,165.53 L1207.04,166.65 L1209.03,167.82 L1211.03,169.03 L1213.02,170.30 L1215.01,171.62 L1217.01,172.99 L1219.00,174.41 L1220.99,175.88 L1222.98,177.39 L1224.98,178.95 L1226.97,180.56 L1228.96,182.21 L1230.96,183.91 L1232.95,185.65 L1234.94,187.43 L1236.93,189.25 L1238.93,191.11 L1240.92,193.01 L1242.91,194.94 L1244.91,196.91 L1246.90,198.91 L1248.89,200.95 L1250.88,203.01 L1252.88,205.10 L1254.87,207.21 L1256.86,209.35 L1258.86,211.51 L1260.85,213.70 L1262.84,215.90 L1264.83,218.11 L1266.83,220.34 L1268.82,222.58 L1270.81,224.83 L1272.80,227.09 L1274.80,229.35 L1276.79,231.62 L1278.78,233.89 L1280.78,236.15 L1282.77,238.42 L1284.76,240.67 L1286.75,242.92 L1288.75,245.16 L1290.74,247.39 L1292.73,249.61 L1294.73,251.81 L1296.72,253.99 L1298.71,256.15 L1300.70,258.30 L1302.70,260.42 L1304.69,262.52 L1306.68,264.59 L1308.68,266.64 L1310.67,268.65 L1312.66,270.65 L1314.65,272.61 L1316.65,274.54 L1318.64,276.43 L1320.63,278.30 L1322.63,280.13 L1324.62,281.93 L1326.61,283.69 L1328.60,285.42 L1330.60,287.12 L1332.59,288.77 L1334.58,290.39 L1336.57,291.98 L1338.57,293.53 L1340.56,295.04 L1342.55,296.52 L1344.55,297.96 L1346.54,299.36 L1348.53,300.73 L1350.52,302.06 L1352.52,303.36 L1354.51,304.62 L1356.50,305.84 L1358.50,307.04 L1360.49,308.20 L1362.48,309.32 L1364.47,310.41 L1366.47,311.47 L1368.46,312.50 L1370.45,313.50 L1372.45,314.47 L1374.44,315.40 L1376.43,316.31 L1378.42,317.19 L1380.42,318.04 L1382.41,318.86 L1384.40,319.65 L1386.40,320.42 L1388.39,321.17 L1390.38,321.89 L1392.37,322.58 L1394.37,323.25 L1396.36,323.90 L1398.35,324.53 L1400.34,325.13 L1402.34,325.71 L1404.33,326.28 L1406.32,326.82 L1408.32,327.34 L1410.31,327.85 L1412.30,328.33 L1414.29,328.80 L1416.29,329.26 L1418.28,329.69 L1420.27,330.11 L1422.27,330.52 L1424.26,330.91 L1426.25,331.28 L1428.24,331.64 L1430.24,331.99 L1432.23,332.32 L1434.22,332.65 L1436.22,332.96 L1438.21,333.26 L1440.20,333.54 L1442.19,333.82 L1444.19,334.08 L1446.18,334.34 L1448.17,334.59 L1450.17,334.82 L1452.16,335.05 L1454.15,335.27 L1456.14,335.48 L1458.14,335.68 L1460.13,335.88 L1462.12,336.06 L1464.11,336.24 L1466.11,336.41 L1468.10,336.58 L1470.09,336.74 L1472.09,336.89 L1474.08,337.04 L1476.07,337.18 L1478.06,337.32 L1480.06,337.45 L1482.05,337.57 L1484.04,337.70 L1486.04,337.81 L1488.03,337.92 L1490.02,338.03 L1492.01,338.13 L1494.01,338.23 L1496.00,338.32" fill="none" stroke="#7f7f7f" stroke-width="3.3" stroke-linecap="round" stroke-linejoin="round" clip-path="url(#cB)"/>
<ellipse cx="181.2" cy="68.4" rx="31.55" ry="30.45" fill="#7f7f7f" stroke="#0f2537" stroke-width="3.3"/><circle cx="198.95" cy="87.2" r="18.5" fill="#fff"/><path d="M238.4,73.3 H267.4 M252.9,58.199999999999996 V88.39999999999999" stroke="#000" stroke-width="3.4" fill="none"/><ellipse cx="306.75" cy="72.2" rx="18.05" ry="18.75" fill="#f6c142" stroke="#e8361f" stroke-width="4.2"/><path d="M345,73.3 H377.9" stroke="#000" stroke-width="3.3" fill="none"/><path d="M370.59999999999997,64.89999999999999 L377.9,73.3 L370.59999999999997,81.7" stroke="#000" stroke-width="3.0" fill="none" stroke-linejoin="miter"/><ellipse cx="432.1" cy="68.3" rx="31.45" ry="30.15" fill="#2c5f80" stroke="#0f2537" stroke-width="3.3"/><ellipse cx="450.2" cy="87.7" rx="17.9" ry="17.9" fill="#f6c142" stroke="#e8361f" stroke-width="4.2"/><path d="M489.4,73.3 H518.4 M503.9,58.199999999999996 V88.39999999999999" stroke="#000" stroke-width="3.4" fill="none"/><ellipse cx="558" cy="72.1" rx="18.05" ry="18.75" fill="#f6c142" stroke="#e8361f" stroke-width="4.2"/><path d="M596.2,73.3 H629.1" stroke="#000" stroke-width="3.3" fill="none"/><path d="M621.8000000000001,64.89999999999999 L629.1,73.3 L621.8000000000001,81.7" stroke="#000" stroke-width="3.0" fill="none" stroke-linejoin="miter"/><ellipse cx="686.4" cy="73.6" rx="32.15" ry="30.05" fill="#4fae5b" stroke="#0f2537" stroke-width="3.3"/><ellipse cx="670.0" cy="52.7" rx="17.9" ry="17.9" fill="#f6c142" stroke="#e8361f" stroke-width="4.2"/><ellipse cx="704.5" cy="91.8" rx="18.3" ry="17.7" fill="#f6c142" stroke="#e8361f" stroke-width="4.2"/><ellipse cx="928.6" cy="70.0" rx="32.2" ry="30.35" fill="#7f7f7f" stroke="#0f2537" stroke-width="3.3"/><circle cx="946.7" cy="87.5" r="18.5" fill="#fff"/><path d="M985.9,73.75 H1014.9 M1000.4,58.65 V88.85" stroke="#000" stroke-width="3.4" fill="none"/><ellipse cx="1054.8" cy="72.95" rx="17.85" ry="17.75" fill="#f6c142" stroke="#e8361f" stroke-width="4.2"/><path d="M1092.6,73.8 H1125.0" stroke="#000" stroke-width="3.3" fill="none"/><path d="M1117.7,65.39999999999999 L1125.0,73.8 L1117.7,82.2" stroke="#000" stroke-width="3.0" fill="none" stroke-linejoin="miter"/><ellipse cx="1179.6" cy="69.6" rx="32.1" ry="30.2" fill="#2c5f80" stroke="#0f2537" stroke-width="3.3"/><ellipse cx="1198.4" cy="88.1" rx="17.9" ry="17.9" fill="#f6c142" stroke="#e8361f" stroke-width="4.2"/><path d="M1236.8,73.85 H1265.8 M1251.3,58.74999999999999 V88.94999999999999" stroke="#000" stroke-width="3.4" fill="none"/><ellipse cx="1305.8" cy="72.95" rx="17.95" ry="17.75" fill="#f6c142" stroke="#e8361f" stroke-width="4.2"/><path d="M1343.8,73.8 H1376.4" stroke="#000" stroke-width="3.3" fill="none"/><path d="M1369.1000000000001,65.39999999999999 L1376.4,73.8 L1369.1000000000001,82.2" stroke="#000" stroke-width="3.0" fill="none" stroke-linejoin="miter"/><ellipse cx="1433.1" cy="73.7" rx="32.05" ry="29.95" fill="#b0261a" stroke="#0f2537" stroke-width="3.3"/><ellipse cx="1416.9" cy="53.1" rx="17.9" ry="17.9" fill="#f6c142" stroke="#e8361f" stroke-width="4.2"/><ellipse cx="1452.1" cy="92.4" rx="17.7" ry="18.2" fill="#f6c142" stroke="#e8361f" stroke-width="4.2"/>
<text transform="translate(42.4,69.3) scale(0.95,1)" font-size="32.9" fill="#000" stroke="#000" stroke-width="0.6">A</text>
<text transform="translate(786.5,69.6) scale(0.975,1)" font-size="32.9" fill="#000" stroke="#000" stroke-width="0.5">B</text>
<text x="415.2" y="595.5" font-size="23" letter-spacing="0.28" fill="#5e5e5e" text-anchor="middle">[Substrate]</text>
<text x="1163.2" y="595.5" font-size="23" letter-spacing="0.28" fill="#5e5e5e" text-anchor="middle">[Substrate]</text>
<text transform="translate(66.5,322) rotate(-90)" font-size="23" fill="#5e5e5e" text-anchor="middle">Reaction rate</text>
<text transform="translate(814.4,322) rotate(-90)" font-size="23" fill="#5e5e5e" text-anchor="middle">Reaction rate</text>
</svg>
</body></html>
